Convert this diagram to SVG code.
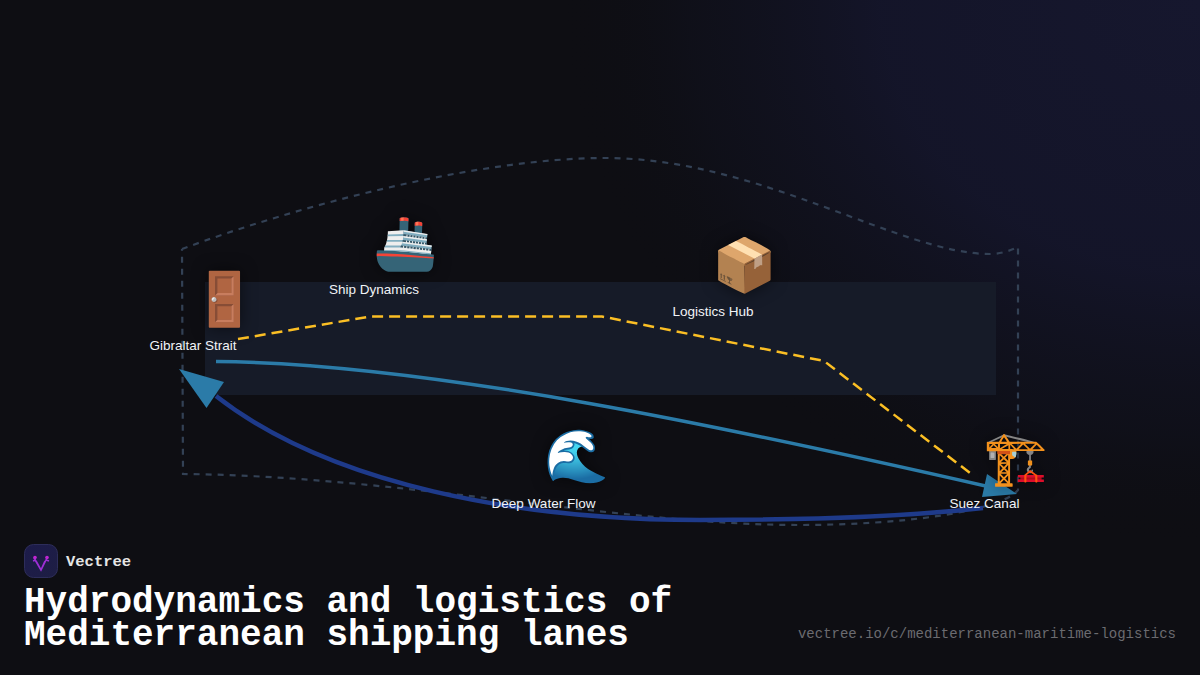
<svg xmlns="http://www.w3.org/2000/svg" width="1200" height="675" viewBox="0 0 1200 675">
<defs>
<radialGradient id="glow" gradientUnits="userSpaceOnUse" cx="1200" cy="0" r="640" gradientTransform="translate(1200 0) scale(1 .85) translate(-1200 0)"><stop offset="0" stop-color="#16172e"/><stop offset=".5" stop-color="#14152a" stop-opacity=".95"/><stop offset=".8" stop-color="#10111d" stop-opacity=".6"/><stop offset="1" stop-color="#0d0d12" stop-opacity="0"/></radialGradient>
<linearGradient id="logoG" x1="0" y1="0" x2="1" y2="1"><stop offset="0" stop-color="#1c1b4a"/><stop offset="1" stop-color="#1e1e44"/></linearGradient>
<style>
.lbl{font:13.5px "Liberation Sans",Arial,sans-serif;fill:#f1f3f7}
.emo{font:52px "Noto Color Emoji","Noto Sans",sans-serif;text-anchor:middle;filter:drop-shadow(0 0 8px rgba(0,0,0,.55))}
.title{font:bold 36px "Liberation Mono",monospace;fill:#fff}
.bound{fill:none;stroke:#334155;stroke-width:2.200;stroke-dasharray:6 6}
</style>
</defs>
<rect width="1200" height="675" fill="#0e0e13"/>
<rect width="1200" height="675" fill="url(#glow)"/>
<rect x="205" y="282" width="791" height="113" fill="#161b28"/>
<g id="connectors" fill="none">
<path class="bound" d="M182 249C300 205 480 158 605 158C760 158 900 254 990 254C1005 254 1018 247 1018 247V490C1000 512 900 525 800 525C620 525 400 476 183 474L182 249"/>
<path d="M238 339L370 316.500H602L824 361L970 473" stroke="#fbbf24" stroke-width="2.500" stroke-dasharray="11 6"/>
<path d="M216 361.500C430 363 740 430 990 487" stroke="#2b7ba8" stroke-width="3.500"/>
<polygon points="1017,494 982,497 987,474" fill="#2b7ba8"/>
<path d="M216 396C330 485 520 520 700 520C820 520 920 515 983 508" stroke="#1e3a8a" stroke-width="4.500"/>
<polygon points="179,369 224,382 206.500,408" fill="#2b7ba8"/>
</g>
<g id="gibraltar"><text class="emo" x="225" y="317">🚪</text><text class="lbl" x="193" y="350" text-anchor="middle">Gibraltar Strait</text></g>
<g id="ship"><text class="emo" x="405.500" y="260.500">🚢</text><text class="lbl" x="374" y="294" text-anchor="middle">Ship Dynamics</text></g>
<g id="hub"><text class="emo" x="745" y="283.300">📦</text><text class="lbl" x="713" y="316" text-anchor="middle">Logistics Hub</text></g>
<g id="deep"><text class="emo" x="577" y="474">🌊</text><text class="lbl" x="543.500" y="508" text-anchor="middle">Deep Water Flow</text></g>
<g id="suez"><text class="emo" x="1016" y="475.600">🏗️</text><text class="lbl" x="984.500" y="508" text-anchor="middle">Suez Canal</text></g>
<g id="brand">
<rect x="24.500" y="544.500" width="33" height="33" rx="9" fill="url(#logoG)" stroke="#2d2d5a"/>
<path d="M34 558L41 570L47 558M41 570L36 561M41 570L45 561M33 561L36 560M49 561L46 560" fill="none" stroke="#9d2fd6" stroke-width="1.600"/>
<circle cx="35" cy="557.500" r="1.800" fill="#c026d3"/><circle cx="47" cy="557.500" r="1.800" fill="#c026d3"/>
<text x="66" y="566" font-family="Liberation Mono,monospace" font-weight="700" font-size="15.500" fill="#e5e5e5">Vectree</text>
</g>
<text class="title" x="24" y="612">Hydrodynamics and logistics of</text>
<text class="title" x="24" y="645">Mediterranean shipping lanes</text>
<text x="1176" y="638" text-anchor="end" font-family="Liberation Mono,monospace" font-size="14" fill="#6b6b70">vectree.io/c/mediterranean-maritime-logistics</text>
</svg>
